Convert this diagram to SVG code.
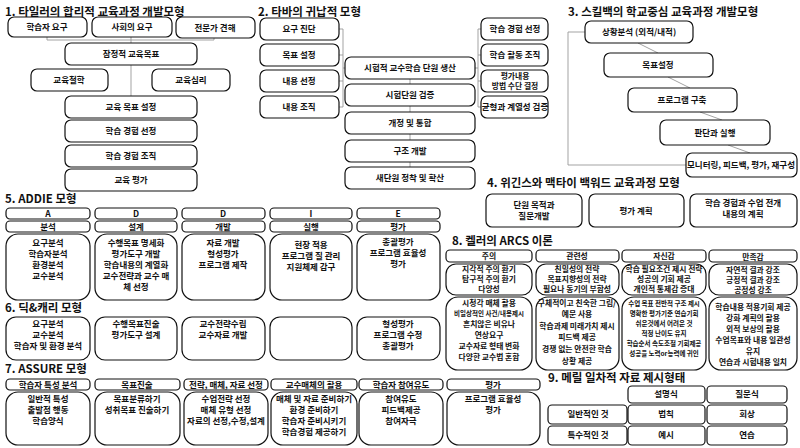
<svg xmlns="http://www.w3.org/2000/svg" width="800" height="448" viewBox="0 0 800 448">
<style>
rect{fill:#fff;stroke:#111;stroke-width:1.2}
.r{rx:6}
.s{rx:4}
text{font-family:"Noto Sans CJK KR","Noto Sans",sans-serif;font-weight:bold;fill:#111;text-anchor:middle;font-size:8.5px}
.t{font-size:11.5px;text-anchor:start}
#s8 g text{font-size:7.8px}
#s8 g text.sm{font-size:6.5px}
#n2l text{font-size:7.8px}
.c line,.c path{stroke:#999;stroke-width:0.9;fill:none}
</style>
<rect x="0" y="0" width="800" height="448" style="stroke:none"/>
<g class="c" id="connectors">
<path d="M47 37V40H214V37M131 37V43M131 65V96"/>
<path d="M339 29H343V107H339M339 55H343M339 81H343M343 68H345"/>
<path d="M481 29H478V107H481M481 55H478M481 81H478M478 68H475"/>
<path d="M410 79V84M410 106V112M410 134V140M410 162V167"/>
<path d="M638 43L658 53M668 77L690 88M700 112L722 120M728 145L750 153"/>
<path d="M585 32H568V165H686"/>
</g>
<g id="s1">
<text class="t" x="5" y="16">1. 타일러의 합리적 교육과정 개발모형</text>
<g id="n1a"><rect class="r" x="8" y="17" width="79" height="20"/><text x="47" y="30">학습자 요구</text></g>
<g id="n1b"><rect class="r" x="92" y="17" width="80" height="20"/><text x="132" y="30">사회의 요구</text></g>
<g id="n1c"><rect class="r" x="176" y="17" width="79" height="21"/><text x="215" y="31">전문가 견해</text></g>
<g id="n1d"><rect class="r" x="65" y="43" width="132" height="22"/><text x="131" y="57">잠정적 교육목표</text></g>
<g id="n1e"><rect class="r" x="31" y="69" width="77" height="22"/><text x="69" y="83">교육철학</text></g>
<g id="n1f"><rect class="r" x="152" y="69" width="78" height="22"/><text x="191" y="83">교육심리</text></g>
<g id="n1g"><rect class="r" x="65" y="96" width="132" height="22"/><text x="131" y="110">교육 목표 설정</text></g>
<g id="n1h"><rect class="r" x="65" y="120" width="132" height="22"/><text x="131" y="134">학습 경험 선정</text></g>
<g id="n1i"><rect class="r" x="65" y="145" width="132" height="22"/><text x="131" y="159">학습 경험 조직</text></g>
<g id="n1j"><rect class="r" x="65" y="169" width="132" height="22"/><text x="131" y="183">교육 평가</text></g>
</g>
<g id="s2">
<text class="t" x="258" y="16">2. 타바의 귀납적 모형</text>
<g id="n2a"><rect class="r" x="260" y="18" width="79" height="22"/><text x="299" y="32">요구 진단</text></g>
<g id="n2b"><rect class="r" x="260" y="44" width="79" height="22"/><text x="299" y="58">목표 설정</text></g>
<g id="n2c"><rect class="r" x="260" y="70" width="79" height="22"/><text x="299" y="84">내용 선정</text></g>
<g id="n2d"><rect class="r" x="260" y="96" width="79" height="22"/><text x="299" y="110">내용 조직</text></g>
<g id="n2e"><rect class="r" x="345" y="57" width="130" height="22"/><text x="410" y="71">시험적 교수학습 단원 생산</text></g>
<g id="n2f"><rect class="r" x="345" y="84" width="130" height="22"/><text x="410" y="98">시험단원 검증</text></g>
<g id="n2g"><rect class="r" x="345" y="112" width="130" height="22"/><text x="410" y="126">개정 및 통합</text></g>
<g id="n2h"><rect class="r" x="345" y="140" width="130" height="22"/><text x="410" y="154">구조 개발</text></g>
<g id="n2i"><rect class="r" x="345" y="167" width="130" height="22"/><text x="410" y="181">새단원 정착 및 확산</text></g>
<g id="n2j"><rect class="r" x="481" y="18" width="67" height="22"/><text x="515" y="32">학습 경험 선정</text></g>
<g id="n2k"><rect class="r" x="481" y="44" width="67" height="22"/><text x="515" y="58">학습 활동 조직</text></g>
<g id="n2l"><rect class="r" x="481" y="70" width="67" height="22"/><text x="515" y="79">평가내용</text><text x="515" y="89">방법 수단 결정</text></g>
<g id="n2m"><rect class="r" x="481" y="96" width="67" height="22"/><text x="515" y="110">균형과 계열성 검증</text></g>
</g>
<g id="s3">
<text class="t" x="568" y="16">3. 스킬백의 학교중심 교육과정 개발모형</text>
<g id="n3a"><rect class="r" x="585" y="21" width="108" height="22"/><text x="639" y="35">상황분석 (외적/내적)</text></g>
<g id="n3b"><rect class="r" x="604" y="53" width="109" height="24"/><text x="658" y="68">목표설정</text></g>
<g id="n3c"><rect class="r" x="628" y="88" width="109" height="24"/><text x="682" y="103">프로그램 구축</text></g>
<g id="n3d"><rect class="r" x="660" y="120" width="110" height="25"/><text x="715" y="136">판단과 실행</text></g>
<g id="n3e"><rect class="r" x="686" y="153" width="111" height="24"/><text x="741" y="168">모니터링, 피드백, 평가, 재구성</text></g>
</g>
<g id="s4">
<text class="t" x="487" y="187">4. 위긴스와 맥타이 백워드 교육과정 모형</text>
<g id="n4a"><rect class="r" x="486" y="194" width="96" height="33"/><text x="534" y="208">단원 목적과</text><text x="534" y="219">질문개발</text></g>
<g id="n4b"><rect class="r" x="589" y="194" width="95" height="33"/><text x="636" y="214">평가 계획</text></g>
<g id="n4c"><rect class="r" x="690" y="194" width="107" height="33"/><text x="743" y="206">학습 경험과 수업 전개</text><text x="743" y="217">내용의 계획</text></g>
</g>
<g id="s5">
<text class="t" x="5" y="203">5. ADDIE 모형</text>
<g id="n5a"><rect class="s" x="6" y="208" width="84" height="11"/><text x="48" y="217">A</text><rect class="s" x="6" y="221" width="84" height="11"/><text x="48" y="230">분석</text><rect class="r" x="6" y="234" width="84" height="66" style="rx:12"/><text x="48" y="246">요구분석</text><text x="48" y="257">학습자분석</text><text x="48" y="268">환경분석</text><text x="48" y="279">교수분석</text></g>
<g id="n5b"><rect class="s" x="95" y="208" width="82" height="11"/><text x="136" y="217">D</text><rect class="s" x="95" y="221" width="82" height="11"/><text x="136" y="230">설계</text><rect class="r" x="95" y="234" width="82" height="66" style="rx:12"/><text x="136" y="246">수행목표 명세화</text><text x="136" y="257">평가도구 개발</text><text x="136" y="268">학습내용의 계열화</text><text x="136" y="279">교수전략과 교수 매</text><text x="136" y="290">체 선정</text></g>
<g id="n5c"><rect class="s" x="182" y="208" width="83" height="11"/><text x="223" y="217">D</text><rect class="s" x="182" y="221" width="83" height="11"/><text x="223" y="230">개발</text><rect class="r" x="182" y="234" width="83" height="66" style="rx:12"/><text x="223" y="246">자료 개발</text><text x="223" y="257">형성평가</text><text x="223" y="268">프로그램 제작</text></g>
<g id="n5d"><rect class="s" x="270" y="208" width="82" height="11"/><text x="311" y="217">I</text><rect class="s" x="270" y="221" width="82" height="11"/><text x="311" y="230">실행</text><rect class="r" x="270" y="234" width="82" height="66" style="rx:12"/><text x="311" y="248">현장 적용</text><text x="311" y="259">프로그램 질 관리</text><text x="311" y="270">지원체제 감구</text></g>
<g id="n5e"><rect class="s" x="357" y="208" width="83" height="11"/><text x="398" y="217">E</text><rect class="s" x="357" y="221" width="83" height="11"/><text x="398" y="230">평가</text><rect class="r" x="357" y="234" width="83" height="66" style="rx:12"/><text x="398" y="245">총괄평가</text><text x="398" y="256">프로그램 효율성</text><text x="398" y="267">평가</text></g>
</g>
<g id="s6">
<text class="t" x="5" y="312">6. 딕&amp;캐리 모형</text>
<g id="n6a"><rect class="r" x="6" y="317" width="84" height="43" style="rx:10"/><text x="48" y="327">요구분석</text><text x="48" y="338">교수분석</text><text x="48" y="349">학습자 및 환경 분석</text></g>
<g id="n6b"><rect class="r" x="95" y="317" width="82" height="43" style="rx:10"/><text x="136" y="327">수행목표진술</text><text x="136" y="338">평가도구 설계</text></g>
<g id="n6c"><rect class="r" x="182" y="317" width="83" height="43" style="rx:10"/><text x="223" y="327">교수전략수립</text><text x="223" y="338">교수자료 개발</text></g>
<g id="n6d"><rect class="r" x="270" y="317" width="82" height="43" style="rx:10"/></g>
<g id="n6e"><rect class="r" x="357" y="317" width="83" height="43" style="rx:10"/><text x="398" y="327">형성평가</text><text x="398" y="338">프로그램 수정</text><text x="398" y="349">총괄평가</text></g>
</g>
<g id="s7">
<text class="t" x="5" y="373">7. ASSURE 모형</text>
<g id="n7a"><rect class="s" x="6" y="379" width="84" height="11"/><text x="48" y="388">학습자 특성 분석</text><rect class="r" x="6" y="392" width="84" height="53" style="rx:12"/><text x="48" y="402">일반적 특성</text><text x="48" y="413">출발점 행동</text><text x="48" y="424">학습양식</text></g>
<g id="n7b"><rect class="s" x="95" y="379" width="85" height="11"/><text x="137" y="388">목표진술</text><rect class="r" x="95" y="392" width="85" height="53" style="rx:12"/><text x="137" y="402">목표분류하기</text><text x="137" y="413">성취목표 진술하기</text></g>
<g id="n7c"><rect class="s" x="184" y="379" width="84" height="11"/><text x="226" y="388">전략, 매체, 자료 선정</text><rect class="r" x="184" y="392" width="84" height="53" style="rx:12"/><text x="226" y="402">수업전략 선정</text><text x="226" y="413">매체 유형 선정</text><text x="226" y="424">자료의 선정,수정,설계</text></g>
<g id="n7d"><rect class="s" x="271" y="379" width="86" height="11"/><text x="314" y="388">교수매체의 활용</text><rect class="r" x="271" y="392" width="86" height="53" style="rx:12"/><text x="314" y="402">매체 및 자료 준비하기</text><text x="314" y="413">환경 준비하기</text><text x="314" y="424">학습자 준비시키기</text><text x="314" y="435">학습경험 제공하기</text></g>
<g id="n7e"><rect class="s" x="359" y="379" width="84" height="11"/><text x="401" y="388">학습자 참여유도</text><rect class="r" x="359" y="392" width="84" height="53" style="rx:12"/><text x="401" y="402">참여유도</text><text x="401" y="413">피드백제공</text><text x="401" y="424">참여자극</text></g>
<g id="n7f"><rect class="s" x="447" y="379" width="93" height="11"/><text x="493" y="388">평가</text><rect class="r" x="447" y="392" width="93" height="53" style="rx:12"/><text x="493" y="402">프로그램 효율성</text><text x="493" y="413">평가</text></g>
</g>
<g id="s8">
<text class="t" x="452" y="245">8. 켈러의 ARCS 이론</text>
<g id="n8a"><rect class="s" x="446" y="250" width="86" height="12"/><text x="489" y="259">주의</text><rect class="r" x="446" y="264" width="86" height="31" style="rx:10"/><text x="489" y="272">지각적 주의 환기</text><text x="489" y="282">탐구적 주의 환기</text><text x="489" y="292">다양성</text><rect class="r" x="446" y="297" width="86" height="73" style="rx:12"/><text x="489" y="306">시청각 매체 활용</text><text class="sm" x="489" y="316">비일상적인 사건/내용제시</text><text x="489" y="327">흔치않은 비유나</text><text x="489" y="338">연상요구</text><text x="489" y="349">교수자료 형태 변화</text><text x="489" y="360">다양한 교수법 혼합</text></g>
<g id="n8b"><rect class="s" x="536" y="250" width="83" height="12"/><text x="577" y="259">관련성</text><rect class="r" x="536" y="264" width="83" height="31" style="rx:10"/><text x="577" y="272">친밀성의 전략</text><text x="577" y="282">목표지향성의 전략</text><text x="577" y="292">필요나 동기의 부합성</text><rect class="r" x="536" y="297" width="83" height="73" style="rx:12"/><text x="577" y="306">구체적이고 친숙한 그림/</text><text x="577" y="317">예문 사용</text><text x="577" y="329">학습과제 미래가치 제시</text><text x="577" y="340">피드백 제공</text><text x="577" y="352">경쟁 없는  안전한 학습</text><text x="577" y="364">상황 제공</text></g>
<g id="n8c"><rect class="s" x="622" y="250" width="84" height="12"/><text x="664" y="259">자신감</text><rect class="r" x="622" y="264" width="84" height="31" style="rx:10"/><text x="664" y="272">학습 필요조건 제시 전략</text><text x="664" y="282">성공의 기회 제공</text><text x="664" y="292">개인적 통제감 증대</text><rect class="r" x="622" y="297" width="84" height="73" style="rx:12"/><text class="sm" x="664" y="306">수업 목표 전반적 구조 제시</text><text class="sm" x="664" y="316">명확한 평가기준 연습기회</text><text class="sm" x="664" y="326">쉬운것에서 어려운 것</text><text class="sm" x="664" y="336">적정 난이도 유지</text><text class="sm" x="664" y="346">학습순서 속도조절 기회제공</text><text class="sm" x="664" y="356">성공을 노력or능력에 귀인</text></g>
<g id="n8d"><rect class="s" x="709" y="250" width="88" height="12"/><text x="753" y="260">만족감</text><rect class="r" x="709" y="264" width="88" height="31" style="rx:10"/><text x="753" y="273">자연적 결과 강조</text><text x="753" y="283">긍정적 결과 강조</text><text x="753" y="293">공정성 강조</text><rect class="r" x="709" y="297" width="88" height="73" style="rx:12"/><text x="753" y="310">학습내용 적용기회 제공</text><text x="753" y="321">강화 계획의 활용</text><text x="753" y="332">외적 보상의 활용</text><text x="753" y="343">수업목표와 내용 일관성</text><text x="753" y="354">유지</text><text x="753" y="365">연습과 시험내용 일치</text></g>
</g>
<g id="s9">
<text class="t" x="548" y="382">9. 메릴 일차적 자료 제시형태</text>
<g id="n9a"><rect class="s" x="628" y="386" width="77" height="17"/><text x="666" y="397">설명식</text></g>
<g id="n9b"><rect class="s" x="707" y="386" width="80" height="17"/><text x="747" y="397">질문식</text></g>
<g id="n9c"><rect class="s" x="548" y="405" width="79" height="19"/><text x="588" y="417">일반적인 것</text></g>
<g id="n9d"><rect class="s" x="628" y="405" width="77" height="19"/><text x="666" y="417">법칙</text></g>
<g id="n9e"><rect class="s" x="707" y="405" width="80" height="19"/><text x="747" y="417">회상</text></g>
<g id="n9f"><rect class="s" x="548" y="426" width="79" height="19"/><text x="588" y="438">특수적인 것</text></g>
<g id="n9g"><rect class="s" x="628" y="426" width="77" height="19"/><text x="666" y="438">예시</text></g>
<g id="n9h"><rect class="s" x="707" y="426" width="80" height="19"/><text x="747" y="438">연습</text></g>
</g>
</svg>
